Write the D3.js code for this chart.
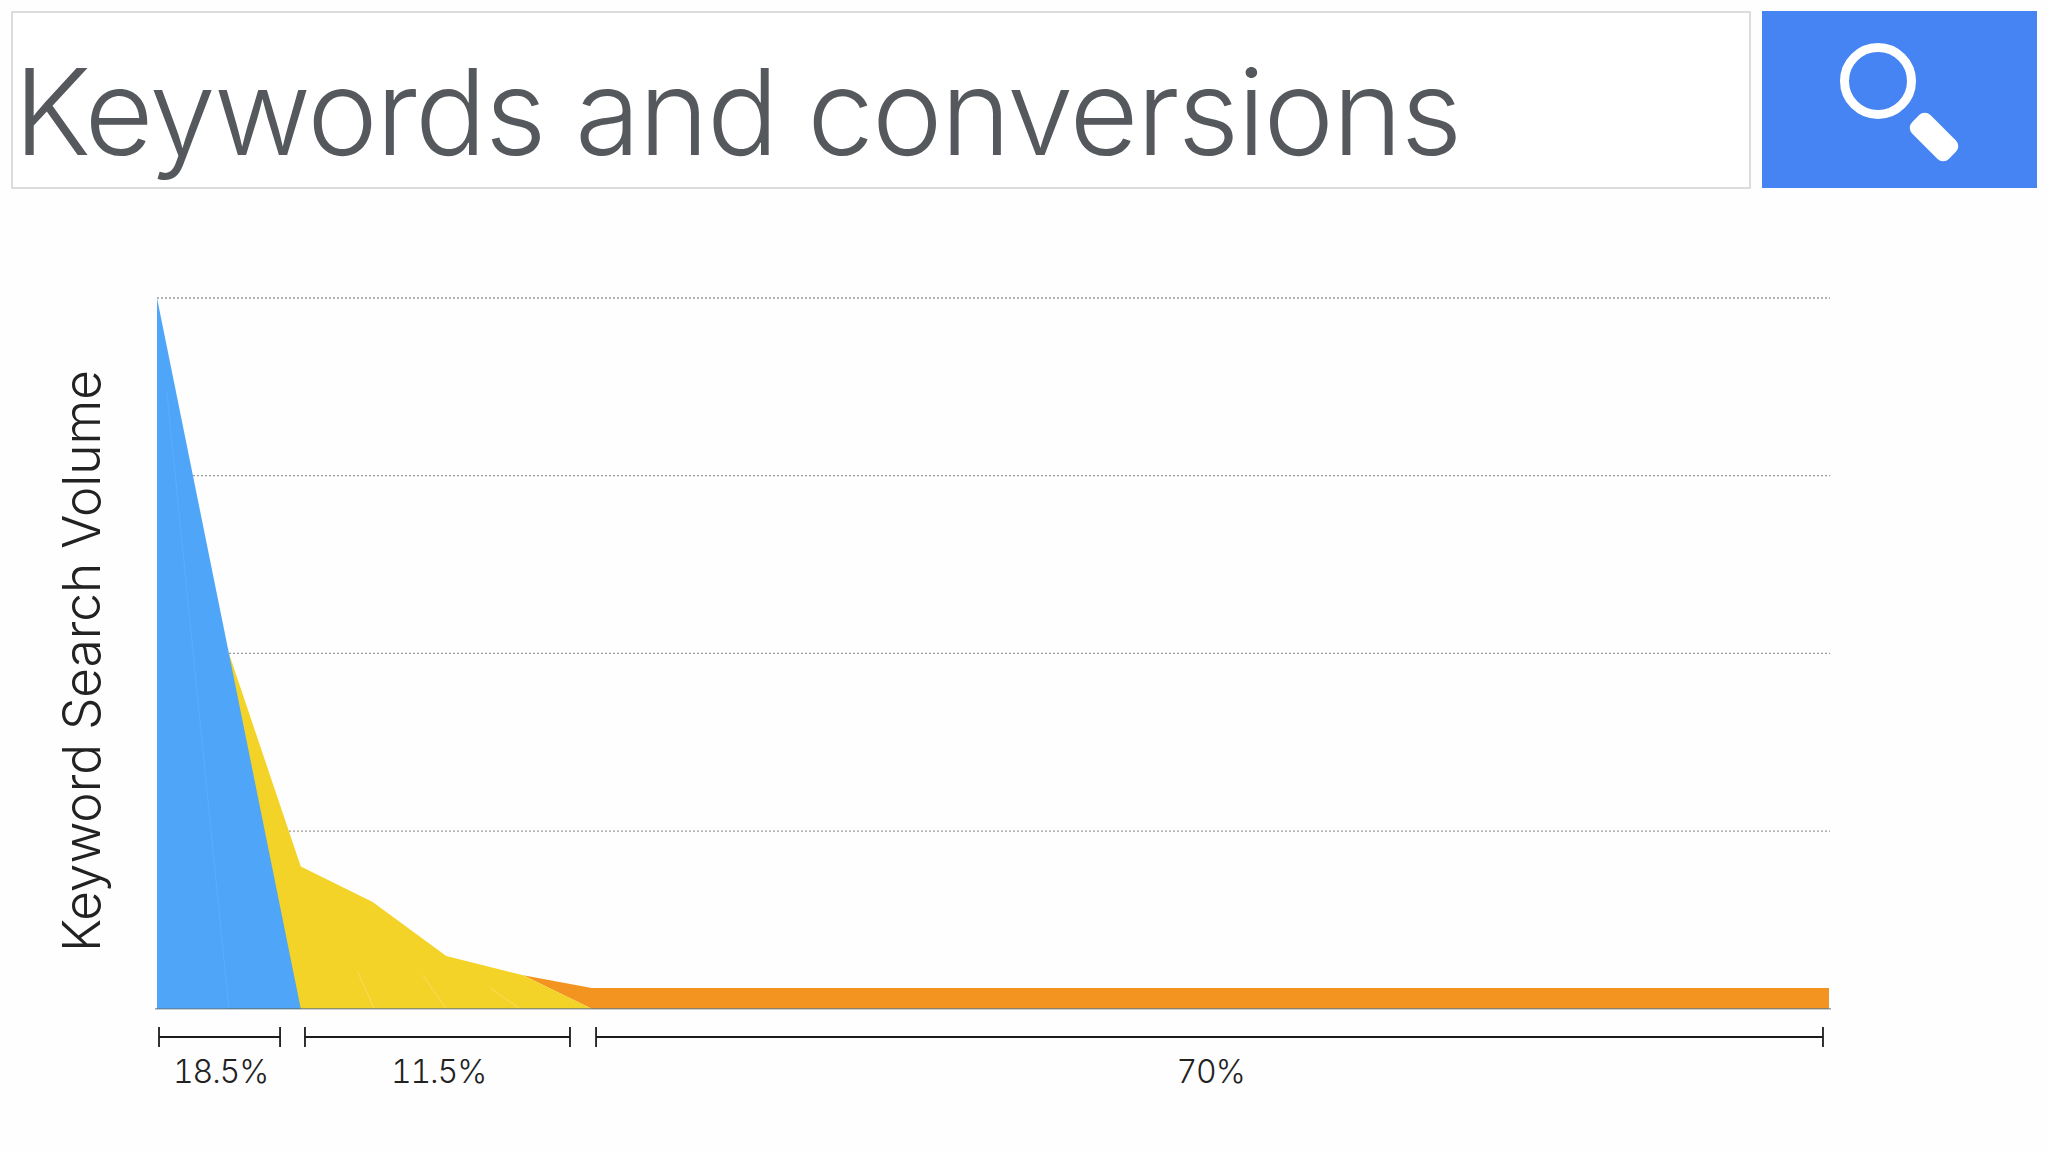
<html lang="en">
<head>
<meta charset="utf-8">
<script src="https://cdnjs.cloudflare.com/ajax/libs/d3/7.8.5/d3.min.js"></script>
<style>
html,body{margin:0;padding:0;background:#fefefe;}
svg{display:block;}
text{font-family:"Inter","Liberation Sans",sans-serif;font-weight:300;font-variant-numeric:tabular-nums;}
</style>
</head>
<body>
<div id="drawarea"></div>
<script>
// x = position along the keyword list (0-100), y = search volume (0-100)
const blueX=[0,8.6]
const blueY=[100,0]
const yellowX=[4.3,8.6,12.9,17.3,21.9,26]
const yellowY=[50,20,15,7.4,4.7,0]
const orangeX=[21.9,26,100]
const orangeTop=[4.7,2.9,2.9]
const orangeBottom=[4.7,0,0]
const gridValues=[25,50,75,100]
const bracketLabels=["18.5%","11.5%","70%"]
const bracketStart=[0.12,8.85,26.26]
const bracketEnd=[7.36,24.7,99.64]
// faint seams between the keyword slices
const blueSeams=[[[4.3,0],[0.6,86.6]]]
const yellowSeams=[[[13,0],[12,5.2]],[[17.3,0],[15.9,4.7]],[[21.7,0],[19.9,3]]]
const titleText="Keywords and conversions"
const yLabel="Keyword Search Volume"

const svg=d3.select("#drawarea").append("svg").attr("width",2048).attr("height",1152)

const x=d3.scaleLinear().domain([0,100]).range([157,1829])
const y=d3.scaleLinear().domain([0,100]).range([1008.7,298])

/////////////// header ///////////////
svg.append("rect").attr("x",12).attr("y",12).attr("width",1738).attr("height",176)
	.style("fill","#fff").style("stroke","#dcdcdc").style("stroke-width",2)
svg.append("text").attr("x",14).attr("y",155).text(titleText)
	.style("font-size","119px").style("letter-spacing","-1.7px").style("fill","#55585c")

svg.append("rect").attr("x",1762).attr("y",11).attr("width",275).attr("height",177).style("fill","#4684f3")
svg.append("circle").attr("cx",1878).attr("cy",81).attr("r",33.5)
	.style("fill","none").style("stroke","#fff").style("stroke-width",9)
svg.append("rect").attr("x",-26).attr("y",-13).attr("width",52).attr("height",26).attr("rx",8)
	.attr("transform","translate(1934,137) rotate(45)").style("fill","#fff")

/////////////// grid ///////////////
const grid=svg.append("g").attr("transform","translate("+x(0)+",0)")
	.call(d3.axisLeft(y).offset(0).tickValues(gridValues).tickSize(-(x(100)-x(0))-1).tickFormat(""))
grid.select(".domain").remove()
grid.selectAll("line").style("stroke","#9a9a9a").style("stroke-width",1.3).style("stroke-dasharray","2 2")

/////////////// areas ///////////////
const area=d3.area().x(d=>x(d[0])).y0(d=>y(d[2])).y1(d=>y(d[1]))
svg.append("path").datum(orangeX.map((d,i)=>[d,orangeTop[i],orangeBottom[i]])).attr("d",area).style("fill","#f2941f")
svg.append("path").datum(yellowX.map((d,i)=>[d,yellowY[i],0])).attr("d",area).style("fill","#f4d328")
svg.append("path").datum(blueX.map((d,i)=>[d,blueY[i],0])).attr("d",area).style("fill","#4fa6f8")

const seam=d3.line().x(d=>x(d[0])).y(d=>y(d[1]))
svg.selectAll(".blueSeam").data(blueSeams).enter().append("path").attr("d",seam)
	.style("stroke","#5dadf9").style("stroke-width",1).style("fill","none")
svg.selectAll(".yellowSeam").data(yellowSeams).enter().append("path").attr("d",seam)
	.style("stroke","#f7de5c").style("stroke-width",1).style("fill","none")

// baseline
svg.append("line").attr("x1",x(0)-2).attr("x2",x(100)+2).attr("y1",y(0)).attr("y2",y(0))
	.style("stroke","#3c5a70").style("stroke-width",1.5).style("opacity",.55)

/////////////// brackets ///////////////
const by=1037
const br=svg.selectAll(".bracket").data(bracketLabels).enter().append("g").attr("class","bracket")
br.append("line").attr("x1",(d,i)=>x(bracketStart[i])).attr("x2",(d,i)=>x(bracketEnd[i])).attr("y1",by).attr("y2",by)
br.append("line").attr("x1",(d,i)=>x(bracketStart[i])).attr("x2",(d,i)=>x(bracketStart[i])).attr("y1",by-10).attr("y2",by+10)
br.append("line").attr("x1",(d,i)=>x(bracketEnd[i])).attr("x2",(d,i)=>x(bracketEnd[i])).attr("y1",by-10).attr("y2",by+10)
br.selectAll("line").style("stroke","#1c1c1c").style("stroke-width",1.8)
br.append("text").attr("x",(d,i)=>(x(bracketStart[i])+x(bracketEnd[i]))/2+1).attr("y",1083)
	.style("text-anchor","middle").style("font-size","32px").style("letter-spacing","-1.1px").style("fill","#222").text(d=>d)

/////////////// y label ///////////////
svg.append("text").attr("transform","translate(100,661) rotate(-90)").style("text-anchor","middle")
	.style("font-size","51.3px").style("fill","#222").text(yLabel)
</script>
</body>
</html>
